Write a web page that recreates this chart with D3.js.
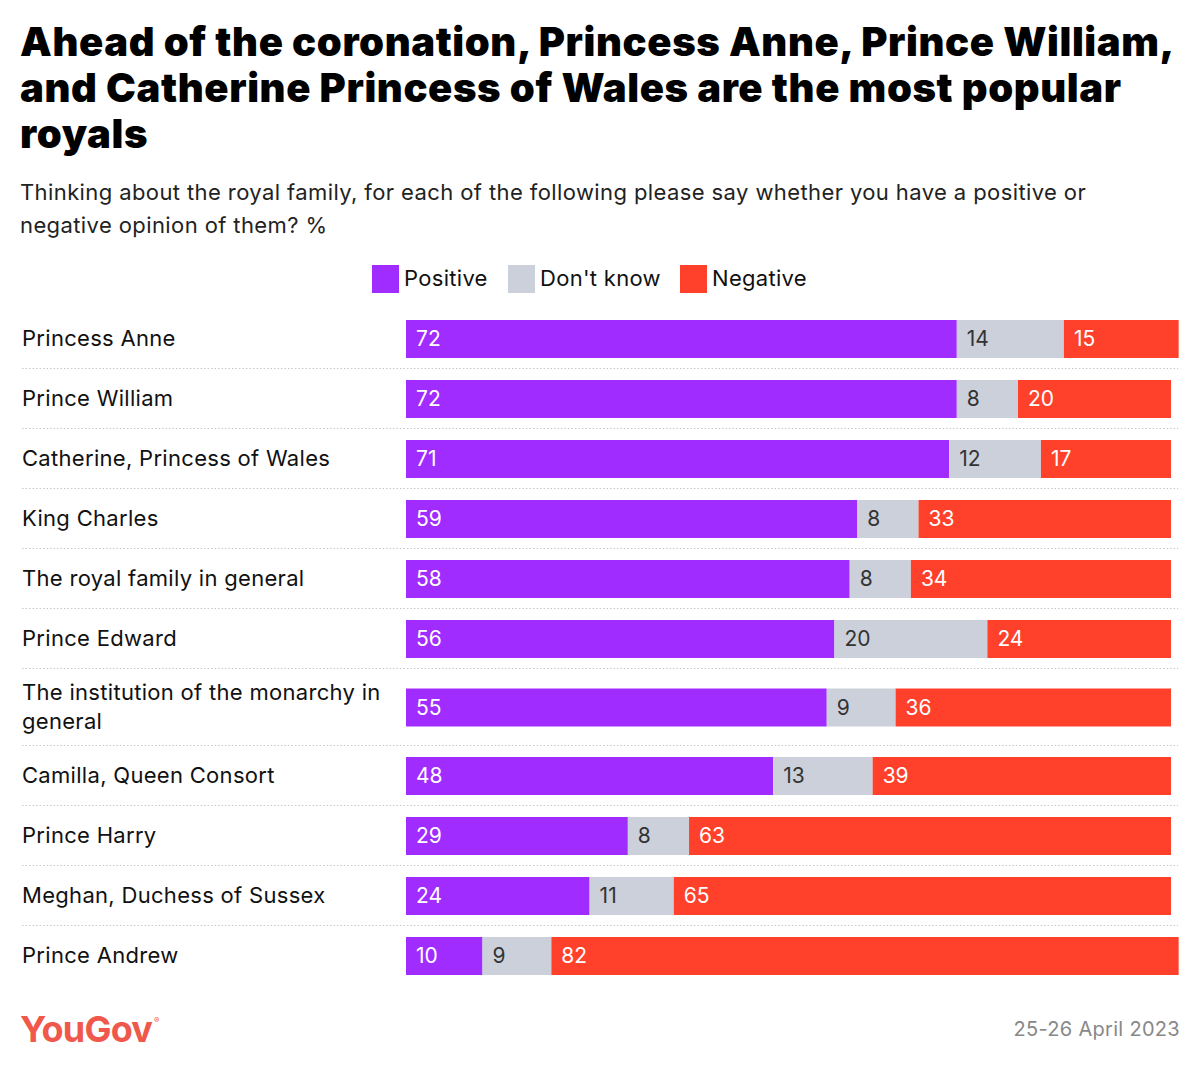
<!DOCTYPE html>
<html>
<head>
<meta charset="utf-8">
<script src="https://cdn.jsdelivr.net/npm/d3@7"></script>
<style>
  html, body { margin: 0; padding: 0; background: #fff; }
  svg { display: block; font-family: Inter, "Noto Sans", sans-serif; }
  .title { font-weight: 900; font-size: 40px; fill: #000; letter-spacing: 0.6px; }
  .subtitle { font-size: 22px; fill: #222; letter-spacing: 0.4px; }
  .legend text { font-size: 22px; fill: #111; letter-spacing: 0.3px; }
  .row-label { font-size: 22px; fill: #111; letter-spacing: 0.3px; }
  .val { font-size: 21px; }
  .sep { stroke: #c8c8c8; stroke-width: 1; stroke-dasharray: 1.5 2; }
</style>
</head>
<body>
<svg id="chart" width="1200" height="1070"></svg>
<script>
const titleLines = [
  "Ahead of the coronation, Princess Anne, Prince William,",
  "and Catherine Princess of Wales are the most popular",
  "royals"
];
const subtitleLines = [
  "Thinking about the royal family, for each of the following please say whether you have a positive or",
  "negative opinion of them? %"
];
const categories = [
  "Princess Anne", "Prince William", "Catherine, Princess of Wales", "King Charles",
  "The royal family in general", "Prince Edward", "The institution of the monarchy in general",
  "Camilla, Queen Consort", "Prince Harry", "Meghan, Duchess of Sussex", "Prince Andrew"
];
const positive = [72, 72, 71, 59, 58, 56, 55, 48, 29, 24, 10];
const dontKnow = [14, 8, 12, 8, 8, 20, 9, 13, 8, 11, 9];
const negative = [15, 20, 17, 33, 34, 24, 36, 39, 63, 65, 82];
const seriesNames = ["Positive", "Don't know", "Negative"];
const colors = ["#a12cff", "#cbd0da", "#ff412c"];
const textColors = ["#fff", "#333", "#fff"];

const svg = d3.select("#chart");

// title + subtitle
svg.append("text").attr("class", "title").selectAll("tspan").data(titleLines).join("tspan")
  .attr("x", 20).attr("y", (d, i) => 56 + i * 46).text((d) => d);
svg.append("text").attr("class", "subtitle").selectAll("tspan").data(subtitleLines).join("tspan")
  .attr("x", 20).attr("y", (d, i) => 200 + i * 33).text((d) => d);

// legend
const lg = svg.append("g").attr("class", "legend");
const legendX = [372, 508, 680];
seriesNames.forEach((s, i) => {
  lg.append("rect").attr("x", legendX[i]).attr("y", 265).attr("width", 27).attr("height", 28).attr("fill", colors[i]);
  lg.append("text").attr("x", legendX[i] + 32).attr("y", 286).text(s);
});

// rows
const x = d3.scaleLinear().domain([0, 100]).range([406, 1171]);
const barH = 38;
const labelW = 372;

const rows = categories.map((c, i) => ({ name: c, vals: [positive[i], dontKnow[i], negative[i]] }));

let y0 = 309;
rows.forEach((r, i) => {
  const g = svg.append("g");
  // wrap label
  const t = g.append("text").attr("class", "row-label").attr("x", 22);
  const words = r.name.split(" ");
  let lines = [], line = [];
  const probe = t.append("tspan");
  words.forEach((w) => {
    line.push(w);
    probe.text(line.join(" "));
    if (probe.node().getComputedTextLength() > labelW && line.length > 1) {
      line.pop(); lines.push(line.join(" ")); line = [w];
    }
  });
  lines.push(line.join(" "));
  probe.remove();
  const rowH = lines.length > 1 ? 77 : 60;
  const cy = y0 + rowH / 2;
  const lh = 29;
  t.selectAll("tspan").data(lines).join("tspan")
    .attr("x", 22)
    .attr("y", (d, j) => cy - 1 + (j - (lines.length - 1) / 2) * lh)
    .attr("dy", "0.35em")
    .text((d) => d);

  let acc = 0;
  r.vals.forEach((v, k) => {
    g.append("rect").attr("x", x(acc)).attr("y", cy - barH / 2)
      .attr("width", x(acc + v) - x(acc)).attr("height", barH).attr("fill", colors[k]);
    g.append("text").attr("class", "val").attr("x", x(acc) + 10).attr("y", cy).attr("dy", "0.35em")
      .attr("fill", textColors[k]).text(v);
    acc += v;
  });

  y0 += rowH;
  if (i < rows.length - 1) {
    svg.append("line").attr("class", "sep").attr("x1", 22).attr("x2", 1178).attr("y1", y0 - 0.5).attr("y2", y0 - 0.5);
  }
});

// footer
svg.append("text").attr("x", 20).attr("y", 1042).attr("fill", "#f0584c")
  .attr("font-size", 36).attr("font-weight", 700).attr("letter-spacing", -0.8).text("YouGov");
svg.append("text").attr("x", 154).attr("y", 1023).attr("fill", "#f0584c").attr("font-size", 8).text("®");
svg.append("text").attr("x", 1180).attr("y", 1036).attr("text-anchor", "end").attr("fill", "#888")
  .attr("font-size", 20).attr("letter-spacing", 0.3).text("25-26 April 2023");
</script>
</body>
</html>
